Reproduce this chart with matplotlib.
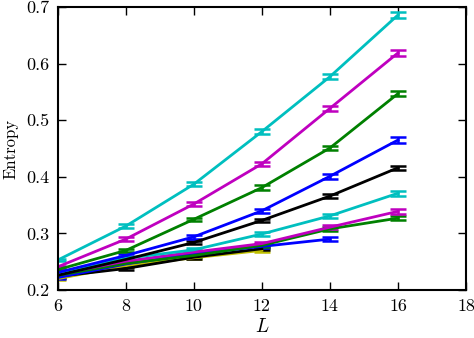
import matplotlib
matplotlib.use("Agg")
import matplotlib.pyplot as plt

plt.rcParams['mathtext.fontset'] = 'cm'
plt.rcParams['font.family'] = ['cmr10', 'DejaVu Serif']
plt.rcParams['axes.formatter.use_mathtext'] = True

L_vals = [6, 8, 10, 12, 14, 16]

cyan_hi = [0.253, 0.313, 0.387, 0.480, 0.577, 0.686]
magenta_hi = [0.241, 0.290, 0.352, 0.423, 0.521, 0.619]
green_hi = [0.236, 0.270, 0.325, 0.381, 0.451, 0.547]
blue_hi = [0.231, 0.261, 0.294, 0.340, 0.401, 0.465]
black_hi = [0.226, 0.254, 0.284, 0.323, 0.366, 0.416]

cyan_lo = [0.230, 0.256, 0.271, 0.299, 0.331, 0.371]
magenta_lo = [0.228, 0.251, 0.267, 0.282, 0.311, 0.339]
green_lo = [0.226, 0.247, 0.261, 0.279, 0.308, 0.327]
blue_lo = [0.222, 0.246, 0.264, 0.277, 0.290]
black_lo = [0.224, 0.238, 0.258, 0.273]
yellow_lo = [0.220, 0.243, 0.257, 0.270]

err_cyan_hi = [0.002, 0.003, 0.003, 0.004, 0.004, 0.005]
err_magenta_hi = [0.002, 0.003, 0.003, 0.004, 0.004, 0.005]
err_green_hi = [0.002, 0.003, 0.003, 0.004, 0.004, 0.005]
err_blue_hi = [0.002, 0.003, 0.003, 0.004, 0.004, 0.005]
err_black_hi = [0.002, 0.003, 0.003, 0.003, 0.004, 0.004]
err_cyan_lo = [0.002, 0.002, 0.003, 0.003, 0.004, 0.004]
err_magenta_lo = [0.002, 0.002, 0.003, 0.003, 0.004, 0.004]
err_green_lo = [0.002, 0.002, 0.003, 0.003, 0.004, 0.004]
err_blue_lo = [0.002, 0.002, 0.003, 0.003, 0.004]
err_black_lo = [0.002, 0.003, 0.003, 0.003]
err_yellow_lo = [0.002, 0.002, 0.003, 0.003]

series = [
    (yellow_lo, err_yellow_lo, 'y'),
    (black_lo, err_black_lo, 'k'),
    (blue_lo, err_blue_lo, 'b'),
    (green_lo, err_green_lo, 'g'),
    (magenta_lo, err_magenta_lo, 'm'),
    (cyan_lo, err_cyan_lo, 'c'),
    (black_hi, err_black_hi, 'k'),
    (blue_hi, err_blue_hi, 'b'),
    (green_hi, err_green_hi, 'g'),
    (magenta_hi, err_magenta_hi, 'm'),
    (cyan_hi, err_cyan_hi, 'c'),
]

fig = plt.figure(figsize=(4.74, 3.38), dpi=100)
ax = fig.add_axes([0.122, 0.142, 0.861, 0.837])

for vals, errs, col in series:
    ax.errorbar(L_vals[:len(vals)], vals, yerr=errs, color=col, lw=2,
                capsize=6, capthick=1.8, elinewidth=1.8)

ax.set_xlim(6, 18)
ax.set_ylim(0.2, 0.7)
ax.set_xticks([6, 8, 10, 12, 14, 16, 18])
ax.set_yticks([0.2, 0.3, 0.4, 0.5, 0.6, 0.7])
ax.set_xticklabels(['6', '8', '10', '12', '14', '16', '18'])
ax.set_yticklabels(['0.2', '0.3', '0.4', '0.5', '0.6', '0.7'])
ax.tick_params(direction='in', top=True, right=True, length=6, width=1,
               labelsize=13, pad=6)
for s in ax.spines.values():
    s.set_linewidth(1.5)
ax.set_xlabel('$L$', fontsize=14, labelpad=3)
ax.set_ylabel('Entropy', fontsize=12, labelpad=6)

fig.savefig('out.png', dpi=100)
